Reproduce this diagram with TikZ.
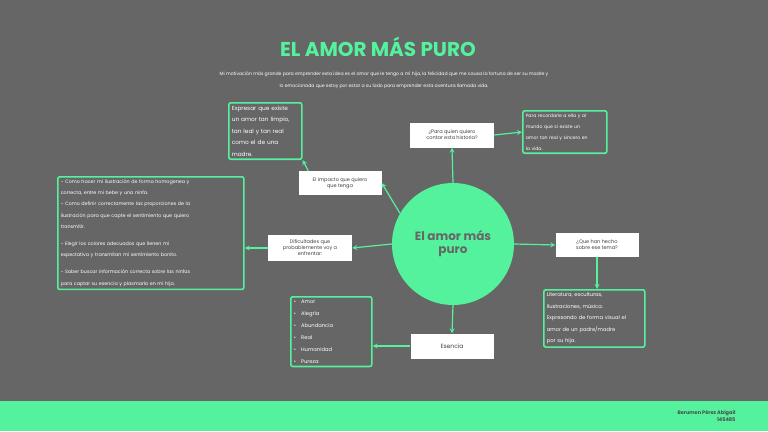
\documentclass[tikz,border=0pt]{standalone}
\usepackage{fontspec}
\setmainfont{Poppins}
\begin{document}
\begin{tikzpicture}[x=1pt,y=-1pt,
 gbox/.style={draw=mint,line width=1.6pt,rounded corners=2pt,text=white,align=left,anchor=north west,inner sep=3pt,font=\fontsize{5.2}{11}\selectfont},
 wbox/.style={fill=white,draw=none,text=black!75,align=center,font=\fontsize{5}{6}\selectfont,inner sep=0pt},
 arr/.style={draw=mint,line width=1.2pt,->,>=stealth}]
\definecolor{mint}{HTML}{55F29E}
\definecolor{bg}{HTML}{666666}
\fill[bg] (0,0) rectangle (768,431);
\fill[mint] (0,401) rectangle (768,431);
\node[text=mint,font=\bfseries\fontsize{20}{24}\selectfont] (title) at (378,47) {EL AMOR MÁS PURO};
\node[text=white,align=center,font=\fontsize{4.6}{12}\selectfont] (sub) at (384,80) {Mi motivación más grande para emprender esta idea es el amor que le tengo a mi hija, la felicidad que me causa la fortuna de ser su madre y\\lo emocionada que estoy por estar a su lado para emprender esta aventura llamada vida.};
\node[text=black!70,align=right,font=\bfseries\fontsize{5}{7}\selectfont,anchor=east] (name) at (739,416) {Berumen Pérez Abigail\\145485};
\node[circle,fill=mint,minimum size=122pt,inner sep=0pt,align=center,text=bg,font=\bfseries\fontsize{12}{13}\selectfont] (c) at (453,244) {El amor más\\puro};
\node[wbox,minimum width=84pt,minimum height=25pt] (q1) at (452,135) {¿Para quien quiero\\contar esta historia?};
\node[wbox,minimum width=83pt,minimum height=24pt] (q2) at (597,245) {¿Que han hecho\\sobre ese tema?};
\node[wbox,minimum width=83pt,minimum height=25pt,font=\fontsize{6}{7}\selectfont] (es) at (452,346) {Esencia};
\node[wbox,minimum width=84pt,minimum height=26pt] (di) at (310,248) {Dificultades que\\probablemente voy a\\enfrentar:};
\node[wbox,minimum width=83pt,minimum height=24pt] (im) at (340,183) {El impacto que quiero\\que tenga};
\node[gbox,text width=67pt,font=\fontsize{5.8}{11.5}\selectfont] (ex) at (228,102) {Expresar que existe\\un amor tan limpio,\\tan leal y tan real\\como el de una\\madre.};
\node[gbox,text width=78pt,font=\fontsize{4.6}{11}\selectfont] (pr) at (522,110) {Para recordarle a ella y al\\mundo que sí existe un\\amor tan real y sincero en\\la vida.};
\node[gbox,text width=95pt,font=\fontsize{5.2}{11.5}\selectfont] (li) at (543,289) {Literatura, esculturas,\\ilustraciones, música.\\Expresando de forma visual el\\amor de un padre/madre\\por su hija.};
\node[gbox,text width=180pt,font=\fontsize{4.8}{11.2}\selectfont] (le) at (57,176) {- Como hacer mi ilustración de forma homogenea y\\correcta, entre mi bebe y una ninfa.\\- Como definir correctamente las proporciones de la\\ilustración para que capte el sentimiento que quiero\\transmitir.\\[6pt]- Elegir los colores adecuados que llenen mi\\expectativa y transmitan mi sentimiento bonito.\\[6pt]- Saber buscar información correcta sobre las ninfas\\para captar su esencia y plasmarla en mi hija.};
\node[gbox,text width=75pt,font=\fontsize{5.2}{12}\selectfont] (bu) at (290,296) {\textbullet\quad Amor\\\textbullet\quad Alegría\\\textbullet\quad Abundancia\\\textbullet\quad Real\\\textbullet\quad Humanidad\\\textbullet\quad Pureza};
\draw[arr] (c.north) -- (q1.south);
\draw[arr] (q1.east) -- (pr.west);
\draw[arr] (c.east) -- (q2.west);
\draw[arr] (q2.south) -- (q2.south |- li.north);
\draw[arr] (c.south) -- (es.north);
\draw[arr] (es.west) -- (bu.east |- es.west);
\draw[arr] (c.west) -- (di.east);
\draw[arr] (di.west) -- (le.east |- di.west);
\draw[arr] (c.150) -- (im.east);
\draw[arr] (im.north west) ++(10,0) coordinate (a1) -- (ex.south east);
\end{tikzpicture}
\end{document}
